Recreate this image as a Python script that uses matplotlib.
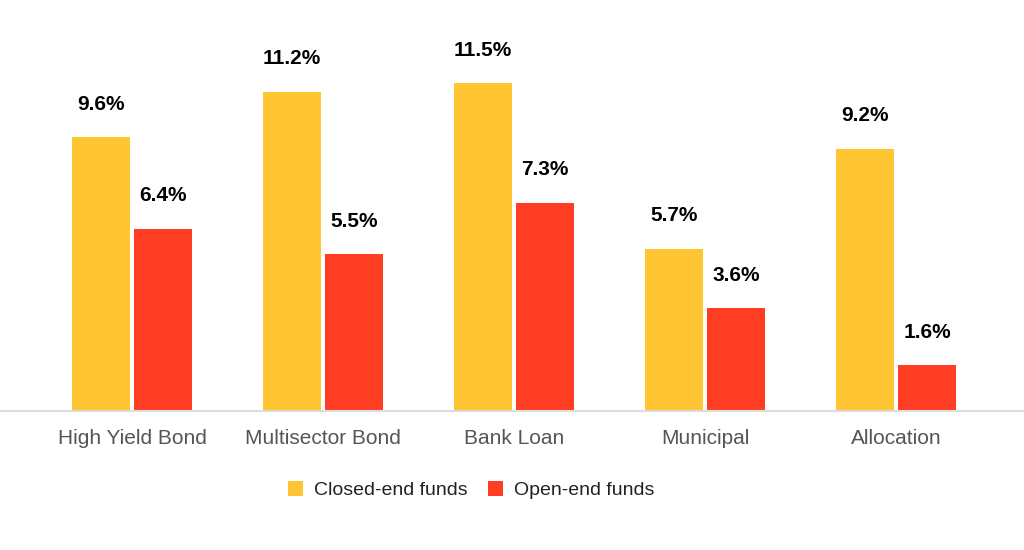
import matplotlib
matplotlib.use("Agg")
import matplotlib.pyplot as plt
import numpy as np
from matplotlib.patches import Patch

categories = ["High Yield Bond", "Multisector Bond", "Bank Loan", "Municipal", "Allocation"]
closed_end = [9.6, 11.2, 11.5, 5.7, 9.2]
open_end = [6.4, 5.5, 7.3, 3.6, 1.6]
series_names = ["Closed-end funds", "Open-end funds"]
colors = ["#FFC533", "#FF3D23"]

plt.rcParams['font.family'] = ['Liberation Sans', 'DejaVu Sans']

fig = plt.figure(figsize=(10.24, 5.5), dpi=100)
ax = fig.add_axes([0, (550-411)/550, 1, 411/550])

x = np.arange(len(categories))
w = 0.304
off = 0.162
b1 = ax.bar(x - off, closed_end, width=w, color=colors[0], zorder=2)
b2 = ax.bar(x + off, open_end, width=w, color=colors[1], zorder=2)

for bars, vals in ((b1, closed_end), (b2, open_end)):
    for rect, v in zip(bars, vals):
        ax.annotate(f"{v:.1f}%", (rect.get_x() + rect.get_width()/2, v),
                    xytext=(0, 33*0.72), textcoords="offset points",
                    ha="center", va="center", fontsize=15, fontweight="bold", color="#000000")

ax.set_xlim(-132/191, (1024-132)/191)
ax.set_ylim(0, 411/28.5)
ax.set_xticks(x)
ax.set_xticklabels(categories, fontsize=15, color="#555555")
ax.tick_params(axis="x", length=0, pad=13)
ax.set_yticks([])
for s in ["top", "right", "left"]:
    ax.spines[s].set_visible(False)
ax.spines["bottom"].set_color("#dddddd")
ax.spines["bottom"].set_linewidth(1.5)
ax.spines["bottom"].set_zorder(3)

handles = [Patch(facecolor=c, edgecolor="none") for c in colors]
fig.legend(handles, series_names, loc="center", bbox_to_anchor=(0.46, 0.109), ncol=2,
           frameon=False, fontsize=14, handlelength=0.8, handleheight=0.8,
           handletextpad=0.55, columnspacing=1.05, labelcolor="#222222")

fig.savefig("out.png", dpi=100)
